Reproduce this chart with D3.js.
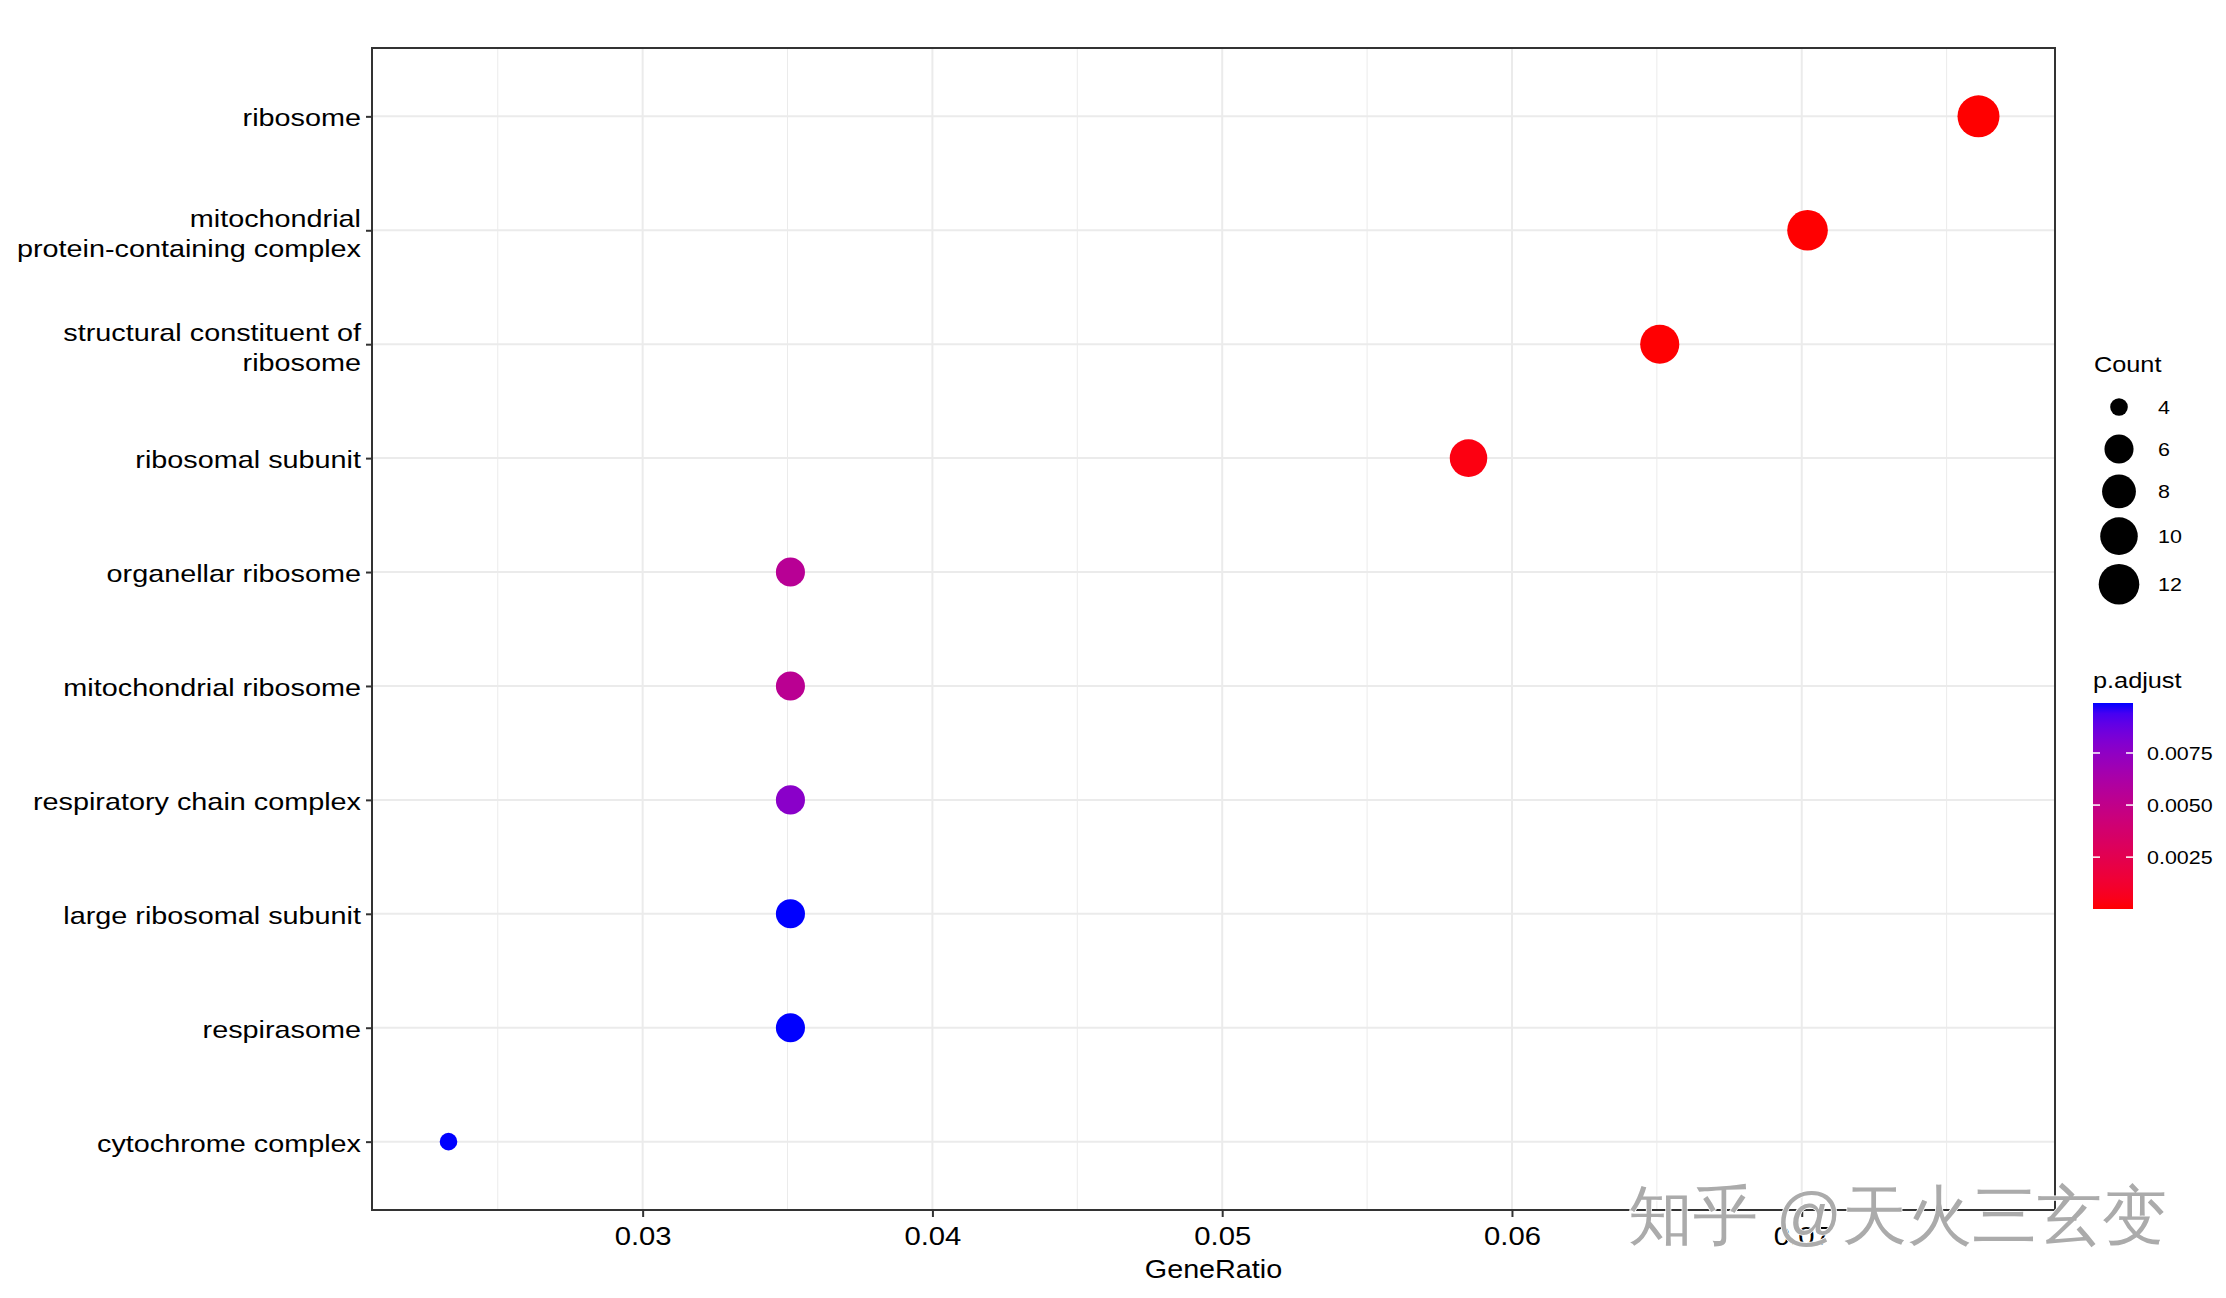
<!DOCTYPE html>
<html>
<head>
<meta charset="utf-8">
<script src="https://cdn.jsdelivr.net/npm/d3@7"></script>
<style>
  body { margin: 0; background: #fff; }
  text { font-family: "Liberation Sans", Arial, sans-serif; }
</style>
</head>
<body>
<div id="chart"></div>
<script>
var terms = ["ribosome", "mitochondrial protein-containing complex", "structural constituent of ribosome",
  "ribosomal subunit", "organellar ribosome", "mitochondrial ribosome", "respiratory chain complex",
  "large ribosomal subunit", "respirasome", "cytochrome complex"];
var termLines = [["ribosome"], ["mitochondrial", "protein-containing complex"], ["structural constituent of", "ribosome"],
  ["ribosomal subunit"], ["organellar ribosome"], ["mitochondrial ribosome"], ["respiratory chain complex"],
  ["large ribosomal subunit"], ["respirasome"], ["cytochrome complex"]];
var geneRatio = [0.0761, 0.0702, 0.0651, 0.0585, 0.0351, 0.0351, 0.0351, 0.0351, 0.0351, 0.0233];
var counts = [13, 12, 11, 10, 6, 6, 6, 6, 6, 4];
var pAdjust = [0.00001, 0.00002, 0.00004, 0.0003, 0.0055, 0.0054, 0.0077, 0.0099, 0.0099, 0.0099];
var xTicks = [0.03, 0.04, 0.05, 0.06, 0.07];
var xMinor = [0.025, 0.035, 0.045, 0.055, 0.065, 0.075];
var countBreaks = [4, 6, 8, 10, 12];
var pBreaks = [0.0025, 0.005, 0.0075];

var W = 2226, H = 1298;
var mrg = { top: 48, right: 171, bottom: 88, left: 372 };
var pw = W - mrg.left - mrg.right, ph = H - mrg.top - mrg.bottom;
// the original's text is rendered wider than Liberation Sans
var wide = 1.2;

var data = terms.map(function (t, i) {
  return { term: t, lines: termLines[i], ratio: geneRatio[i], count: counts[i], p: pAdjust[i] };
});

var svg = d3.select("#chart").append("svg")
  .attr("width", W).attr("height", H);

var chart = svg.append("g").attr("transform", `translate(${mrg.left}, ${mrg.top})`);

// ggplot style 5% expansion
var ext = d3.extent(geneRatio), span = ext[1] - ext[0];
var xScale = d3.scaleLinear().domain([ext[0] - span * 0.05, ext[1] + span * 0.05]).range([0, pw]);
var yScale = d3.scalePoint().domain(terms).range([0, ph]).padding(0.6);

var cntExt = d3.extent(counts);
var rScale = d3.scaleSqrt().domain([0, cntExt[1] - cntExt[0]]).range([8.8, 21]);
function radius(c) { return rScale(c - cntExt[0]); }

var colorScale = d3.scaleLinear().domain(d3.extent(pAdjust)).range(["red", "blue"]).interpolate(d3.interpolateLab);

// grid
chart.append("g").selectAll("line").data(xMinor).enter().append("line")
  .attr("x1", d => xScale(d)).attr("x2", d => xScale(d))
  .attr("y1", 0).attr("y2", ph)
  .attr("stroke", "#ebebeb").attr("stroke-width", 1);
chart.append("g").selectAll("line").data(xTicks).enter().append("line")
  .attr("x1", d => xScale(d)).attr("x2", d => xScale(d))
  .attr("y1", 0).attr("y2", ph)
  .attr("stroke", "#ebebeb").attr("stroke-width", 2);
chart.append("g").selectAll("line").data(terms).enter().append("line")
  .attr("x1", 0).attr("x2", pw)
  .attr("y1", d => yScale(d)).attr("y2", d => yScale(d))
  .attr("stroke", "#ebebeb").attr("stroke-width", 2);

// points
chart.append("g").selectAll("circle").data(data).enter().append("circle")
  .attr("cx", d => xScale(d.ratio))
  .attr("cy", d => yScale(d.term))
  .attr("r", d => radius(d.count))
  .attr("fill", d => colorScale(d.p));

chart.append("rect")
  .attr("width", pw).attr("height", ph)
  .attr("fill", "none").attr("stroke", "#333").attr("stroke-width", 2);

// x axis
var xAxis = chart.append("g").attr("transform", `translate(0, ${ph})`)
  .call(d3.axisBottom(xScale).tickValues(xTicks).tickSize(7).tickPadding(10).tickFormat(d3.format(".2f")));
xAxis.select(".domain").remove();
xAxis.selectAll("line").attr("stroke", "#333").attr("stroke-width", 2);
xAxis.selectAll("text").attr("font-size", 25).attr("fill", "#000")
  .attr("font-family", "Liberation Sans, Arial, sans-serif")
  .attr("transform", `scale(1.17, 1)`);

chart.append("text")
  .attr("transform", `translate(${pw / 2}, ${ph + 68}) scale(1.15, 1)`)
  .attr("text-anchor", "middle").attr("font-size", 25).text("GeneRatio");

// y axis
var yAxis = chart.append("g")
  .call(d3.axisLeft(yScale).tickSize(6).tickFormat(""));
yAxis.select(".domain").remove();
yAxis.selectAll("line").attr("stroke", "#333").attr("stroke-width", 2);

var ylab = chart.append("g").selectAll("text").data(data).enter().append("text")
  .attr("transform", d => `translate(-11, ${yScale(d.term)}) scale(${wide}, 1)`)
  .attr("text-anchor", "end").attr("font-size", 24).attr("fill", "#000");
ylab.selectAll("tspan").data(d => d.lines.map((l, i) => ({ l: l, i: i, n: d.lines.length })))
  .enter().append("tspan")
  .attr("x", 0)
  .attr("dy", d => d.i === 0 ? (d.n === 1 ? 10 : -3) : 30)
  .text(d => d.l);

// size legend
var lg = svg.append("g").attr("transform", "translate(2094, 0)");
lg.append("text").attr("transform", "translate(0, 372) scale(1.15, 1)").attr("font-size", 22).text("Count");
var keyY = [], yy = 386;
countBreaks.forEach(function (c) {
  var h = Math.max(42, 2 * radius(c) + 9);
  keyY.push(yy + h / 2);
  yy += h;
});
keyY = keyY.map((v, i) => v - (keyY[0] - 407));
lg.selectAll("circle").data(countBreaks).enter().append("circle")
  .attr("cx", 25).attr("cy", (d, i) => keyY[i]).attr("r", d => radius(d)).attr("fill", "#000");
lg.selectAll(".cl").data(countBreaks).enter().append("text")
  .attr("transform", (d, i) => `translate(64, ${keyY[i] + 7}) scale(1.13, 1)`)
  .attr("font-size", 19).text(d => d);

// colour bar
var barTop = 703, barBot = 909, barX = 2093, barW = 40;
var pScale = d3.scaleLinear().domain(d3.extent(pAdjust)).range([barBot, barTop]);
var grad = svg.append("defs").append("linearGradient")
  .attr("id", "pgrad").attr("x1", 0).attr("y1", 1).attr("x2", 0).attr("y2", 0);
d3.range(0, 1.0001, 0.05).forEach(function (t) {
  grad.append("stop").attr("offset", t)
    .attr("stop-color", colorScale(pScale.invert(barBot - t * (barBot - barTop))));
});
svg.append("text").attr("transform", `translate(${barX}, 688) scale(1.15, 1)`).attr("font-size", 22).text("p.adjust");
svg.append("rect").attr("x", barX).attr("y", barTop).attr("width", barW).attr("height", barBot - barTop)
  .attr("fill", "url(#pgrad)");
var pt = svg.append("g").selectAll("g").data(pBreaks).enter().append("g");
pt.append("line").attr("x1", barX).attr("x2", barX + 7)
  .attr("y1", d => pScale(d)).attr("y2", d => pScale(d)).attr("stroke", "#fff").attr("stroke-width", 1.5);
pt.append("line").attr("x1", barX + barW - 7).attr("x2", barX + barW)
  .attr("y1", d => pScale(d)).attr("y2", d => pScale(d)).attr("stroke", "#fff").attr("stroke-width", 1.5);
pt.append("text").attr("transform", d => `translate(2147, ${pScale(d) + 7}) scale(1.13, 1)`)
  .attr("font-size", 19).text(d => d3.format(".4f")(d));

// watermark
svg.append("text")
  .attr("x", 1628).attr("y", 1238)
  .attr("font-family", "Noto Sans CJK SC, sans-serif")
  .attr("font-size", 65)
  .attr("fill", "#ababab")
  .attr("stroke", "#fff").attr("stroke-width", 1.5)
  .attr("paint-order", "stroke")
  .text("知乎 @天火三玄变");
</script>
</body>
</html>
